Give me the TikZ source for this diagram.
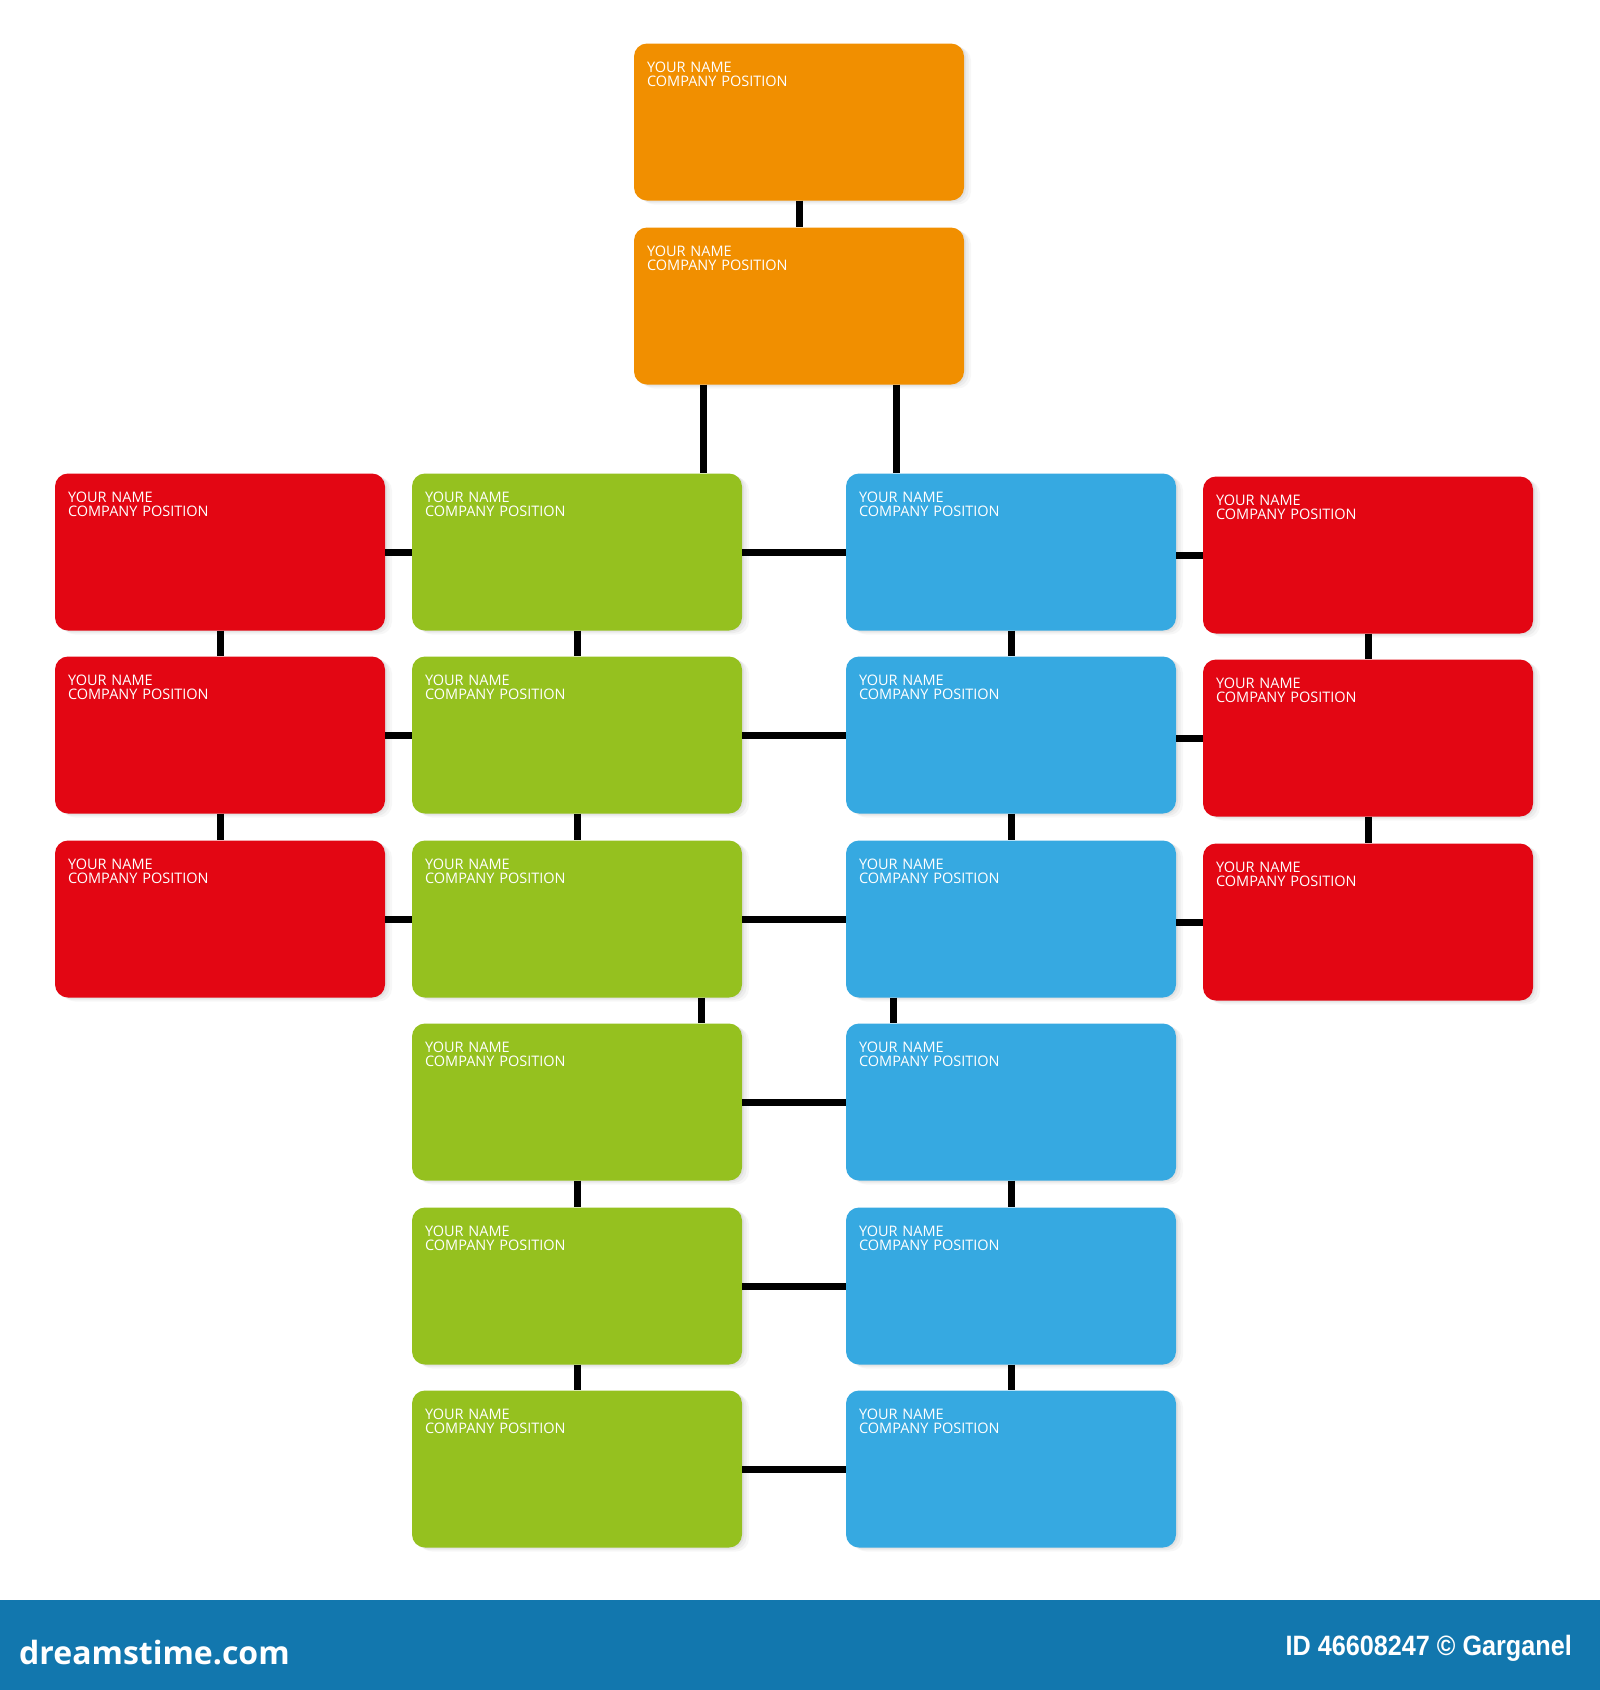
\documentclass[tikz,border=0pt]{standalone}
\usepackage{fontspec}
\usetikzlibrary{shadows}
\newfontfamily\boxfont{Open Sans}
\newfontfamily\sitefont{Open Sans}
\newfontfamily\creditfont[FakeStretch=0.9]{Liberation Sans}
\definecolor{bossorange}{HTML}{F18F00}
\definecolor{leftgreen}{HTML}{95C11F}
\definecolor{rightblue}{HTML}{36A9E1}
\definecolor{teamred}{HTML}{E30613}
\definecolor{barblue}{HTML}{1277AE}
\tikzset{
  orgbox/.style={fill=#1, rounded corners=13pt, text=white, align=left,
    text width=304pt, inner xsep=13pt, inner ysep=18pt,
    text height=11pt, text depth=110pt,
    font={\boxfont\fontsize{14.5}{14}\selectfont},
    drop shadow={shadow xshift=7pt, shadow yshift=-4pt, opacity=0.06},
    drop shadow={shadow xshift=4.5pt, shadow yshift=-2.5pt, opacity=0.08},
    drop shadow={shadow xshift=2pt, shadow yshift=-1pt, opacity=0.1}},
  link/.style={line width=7pt, black}
}
\begin{document}
\begin{tikzpicture}[x=1pt, y=-1pt]
    \fill[white] (0, 0) rectangle (1600, 1690);
    \useasboundingbox (0, 0) rectangle (1600, 1690);
    % top of the chart
    \node[orgbox=bossorange] (top) at (799, 122) {YOUR NAME\\COMPANY POSITION};
    \node[orgbox=bossorange] (deputy) at (799, 306) {YOUR NAME\\COMPANY POSITION};
    % two middle columns
    \foreach \row/\y in {1/552, 2/735, 3/919, 4/1102, 5/1286, 6/1469} {
        \node[orgbox=leftgreen] (green\row) at (577, \y) {YOUR NAME\\COMPANY POSITION};
        \node[orgbox=rightblue] (blue\row) at (1011, \y) {YOUR NAME\\COMPANY POSITION};
    }
    % outer red columns
    \foreach \row/\y in {1/552, 2/735, 3/919} {
        \node[orgbox=teamred] (redl\row) at (220, \y) {YOUR NAME\\COMPANY POSITION};
        \node[orgbox=teamred] (redr\row) at (1368, \y+3) {YOUR NAME\\COMPANY POSITION};
    }
    % connectors
    \draw[link] (top) -- (deputy);
    \draw[link] ([xshift=-96pt]deputy.south) -- ([xshift=126pt]green1.north);
    \draw[link] ([xshift=97pt]deputy.south) -- ([xshift=-115pt]blue1.north);
    \foreach \a/\b in {1/2, 2/3, 4/5, 5/6} {
        \draw[link] (green\a) -- (green\b);
        \draw[link] (blue\a) -- (blue\b);
    }
    \draw[link] ([xshift=124pt]green3.south) -- ([xshift=124pt]green4.north);
    \draw[link] ([xshift=-118pt]blue3.south) -- ([xshift=-118pt]blue4.north);
    \foreach \row in {1, ..., 6}
        \draw[link] (green\row) -- (blue\row);
    \foreach \row in {1, 2, 3} {
        \draw[link] (redl\row) -- (green\row);
        \draw[link] (redr\row.west) -- (redr\row.west -| blue\row.east);
    }
    \draw[link] (redl1) -- (redl2);
    \draw[link] (redl2) -- (redl3);
    \draw[link] (redr1) -- (redr2);
    \draw[link] (redr2) -- (redr3);
    % bottom bar
    \fill[barblue] (0, 1600) rectangle (1600, 1690);
    \node[anchor=base west, inner sep=0pt, text=white, font={\sitefont\bfseries\fontsize{32}{32}\selectfont}] (site) at (19, 1664) {dreamstime.com};
    \node[anchor=base east, inner sep=0pt, text=white, font={\creditfont\bfseries\fontsize{28}{28}\selectfont}] (credit) at (1572, 1655) {ID 46608247 © Garganel};
\end{tikzpicture}
\end{document}
